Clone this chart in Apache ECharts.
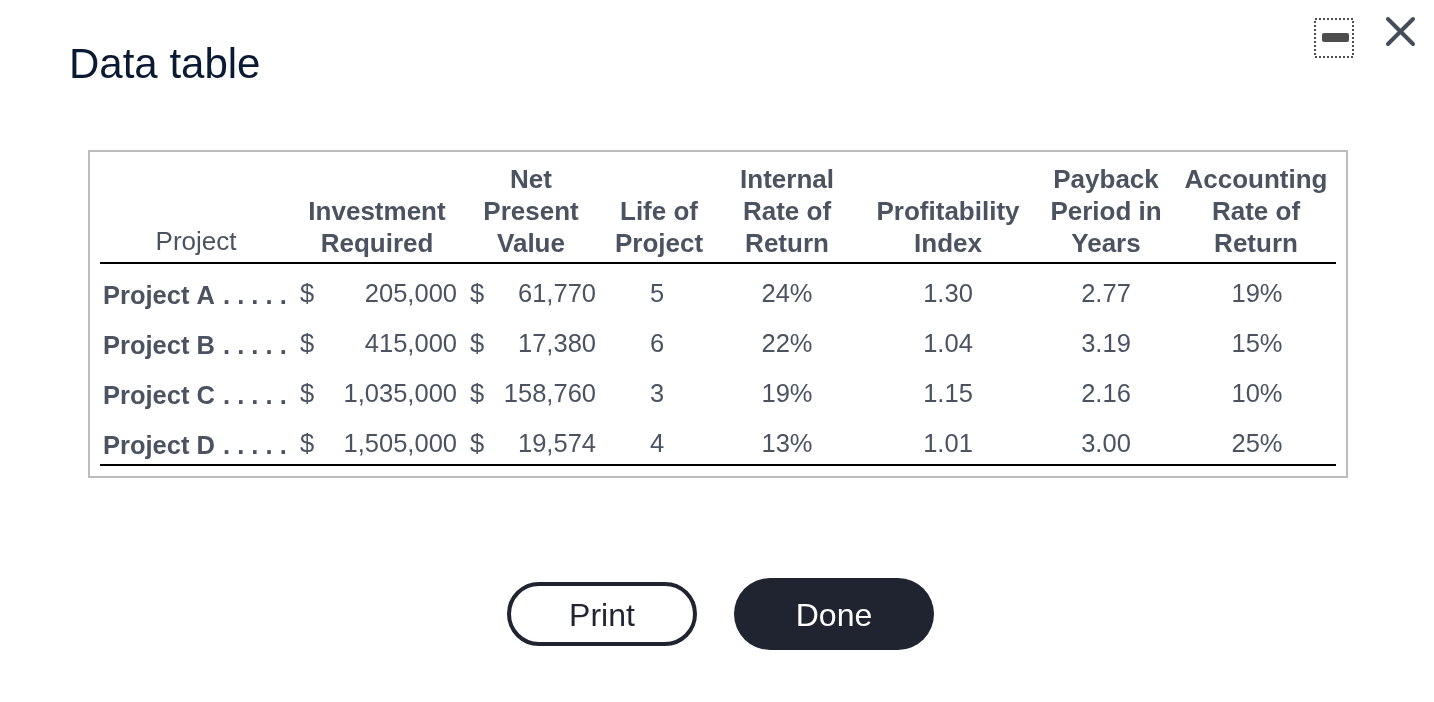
<!DOCTYPE html>
<html lang="en">
<head>
<meta charset="utf-8">
<title>Data table</title>
<script src="https://cdn.jsdelivr.net/npm/echarts@6/dist/echarts.min.js"></script>
<style>
  html, body { margin: 0; padding: 0; background: #fff; }
  #main { width: 1434px; height: 702px; }
</style>
</head>
<body>
<div id="main"></div>
<script>
// table content
var projects = ['Project A', 'Project B', 'Project C', 'Project D'];
var investment = ['205,000', '415,000', '1,035,000', '1,505,000'];
var npv = ['61,770', '17,380', '158,760', '19,574'];
var lifeYears = ['5', '6', '3', '4'];
var irr = ['24%', '22%', '19%', '13%'];
var profitIndex = ['1.30', '1.04', '1.15', '1.01'];
var payback = ['2.77', '3.19', '2.16', '3.00'];
var arr = ['19%', '15%', '10%', '25%'];
var headers = [
  ['Investment', 'Required'],
  ['Net', 'Present', 'Value'],
  ['Life of', 'Project'],
  ['Internal', 'Rate of', 'Return'],
  ['Profitability', 'Index'],
  ['Payback', 'Period in', 'Years'],
  ['Accounting', 'Rate of', 'Return']
];

// layout
var FONT = '"Liberation Sans", Arial, sans-serif';
var TEXT = '#4b5361';
var DARK = '#1f2430';
var headerX = [377, 531, 659, 787, 948, 1106, 1256];
var columns = [
  { values: investment, x: 457, align: 'right', prefixX: 307 },
  { values: npv, x: 596, align: 'right', prefixX: 477 },
  { values: lifeYears, x: 657, align: 'center' },
  { values: irr, x: 787, align: 'center' },
  { values: profitIndex, x: 948, align: 'center' },
  { values: payback, x: 1106, align: 'center' },
  { values: arr, x: 1257, align: 'center' }
];

var cells = [];
projects.forEach(function (name, row) {
  cells.push({ value: [103, row], text: name, bold: true, dy: 2 });
  cells.push({ value: [223, row], text: '. . . . .', bold: true, dy: 2 });
  columns.forEach(function (col) {
    if (col.prefixX) {
      cells.push({ value: [col.prefixX, row], text: '$', align: 'center' });
    }
    cells.push({ value: [col.x, row], text: col.values[row], align: col.align });
  });
});

function label(x, y, text, size, color, weight, align) {
  return {
    type: 'text', x: x, y: y, silent: true,
    style: {
      text: text, fill: color, align: align || 'center', verticalAlign: 'middle',
      font: (weight || 'normal') + ' ' + size + 'px ' + FONT
    }
  };
}

var elements = [
  label(69, 66, 'Data table', 42, '#0b1a33', 'normal', 'left'),
  label(196, 243, 'Project', 26, TEXT),
  { type: 'rect', silent: true, shape: { x: 89, y: 151, width: 1258, height: 326 },
    style: { fill: 'none', stroke: '#bcbcbc', lineWidth: 2 } },
  { type: 'line', silent: true, shape: { x1: 100, y1: 263, x2: 1336, y2: 263 },
    style: { stroke: '#000', lineWidth: 2 } },
  { type: 'line', silent: true, shape: { x1: 100, y1: 465, x2: 1336, y2: 465 },
    style: { stroke: '#000', lineWidth: 2 } },
  // buttons
  { type: 'rect', silent: true, shape: { x: 509, y: 584, width: 186, height: 60, r: 30 },
    style: { fill: '#fff', stroke: DARK, lineWidth: 4 } },
  label(602, 617, 'Print', 32, DARK),
  { type: 'rect', silent: true, shape: { x: 734, y: 578, width: 200, height: 72, r: 36 },
    style: { fill: DARK } },
  label(834, 617, 'Done', 32, '#fff'),
  // window icons
  { type: 'rect', silent: true, shape: { x: 1315, y: 19, width: 38, height: 38 },
    style: { fill: 'none', stroke: '#4d4d4d', lineWidth: 2, lineDash: [2, 2] } },
  { type: 'rect', silent: true, shape: { x: 1322, y: 33, width: 27, height: 9, r: 2 },
    style: { fill: '#4d4d4d' } },
  { type: 'line', silent: true, shape: { x1: 1388, y1: 19, x2: 1413, y2: 44 },
    style: { stroke: '#444d5a', lineWidth: 4, lineCap: 'round' } },
  { type: 'line', silent: true, shape: { x1: 1413, y1: 19, x2: 1388, y2: 44 },
    style: { stroke: '#444d5a', lineWidth: 4, lineCap: 'round' } }
];

// column headers sit on the bottom line, stacked upward
headers.forEach(function (lines, i) {
  lines.forEach(function (line, j) {
    var y = 245 - (lines.length - 1 - j) * 32;
    elements.push(label(headerX[i], y, line, 26, TEXT, 'bold'));
  });
});

var myChart = echarts.init(document.getElementById('main'));
myChart.setOption({
  animation: false,
  backgroundColor: '#fff',
  grid: { left: 0, right: 0, top: 270, height: 200 },
  xAxis: { type: 'value', min: 0, max: 1434, show: false },
  yAxis: { type: 'category', data: projects, inverse: true, show: false },
  graphic: { elements: elements },
  series: [{
    type: 'custom',
    silent: true,
    coordinateSystem: 'cartesian2d',
    data: cells,
    renderItem: function (params, api) {
      var cell = cells[params.dataIndex];
      var p = api.coord([api.value(0), api.value(1)]);
      return {
        type: 'text',
        x: p[0],
        y: p[1] + (cell.dy || 0),
        style: {
          text: cell.text,
          fill: TEXT,
          align: cell.align || 'left',
          verticalAlign: 'middle',
          font: (cell.bold ? 'bold' : 'normal') + ' 25.5px ' + FONT
        }
      };
    }
  }]
});
</script>
</body>
</html>
